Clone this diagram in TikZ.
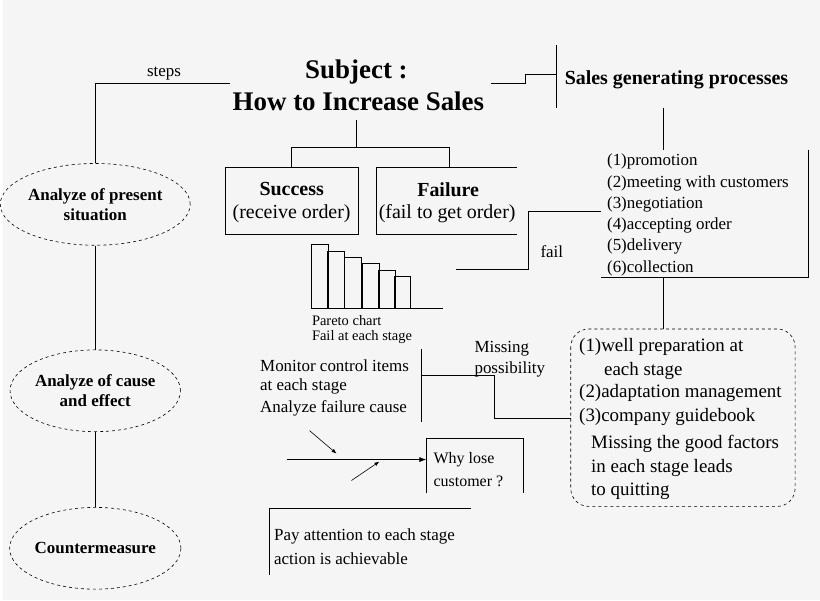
\documentclass[tikz,border=0pt]{standalone}
\usepackage{fontspec}
\setmainfont{Liberation Serif}
\usetikzlibrary{arrows.meta,shapes.geometric}

\begin{document}
\begin{tikzpicture}[x=1pt,y=-1pt,
 line width=0.9pt,
    T/.style = {font=\fontsize{27}{29}\selectfont\bfseries},% title text
    L/.style = {anchor=west, inner sep=0pt, font=\fontsize{17}{19}\selectfont},
    G/.style = {L, font=\fontsize{19}{21}\selectfont},
    B/.style = {font=\fontsize{20}{22}\selectfont\bfseries},
    E/.style = {ellipse, draw, dashed, line width=0.6pt, minimum width=150, minimum height=82,
                align=center, inner sep=0pt, font=\fontsize{17}{20}\selectfont\bfseries},
    thin/.style = {line width=0.6pt},
                        ]
\fill[white!96!black] (0,0) rectangle (820,602);
% title and steps
\node[T] (subj) at (355,72) {Subject :};
\node[T] (how) at (357,102) {How to Increase Sales};
\node[font=\fontsize{17}{19}\selectfont] (steps) at (162,74) {steps};
\node[E] (e1) at (93,205) {Analyze of present\\situation};
\node[E] (e2) at (93,392) {Analyze of cause\\and effect};
\node[E] (e3) at (93,550) {Countermeasure};
\draw (228,84) -- (93,84) -- (e1.north);
\draw[thin] (e1.south) -- (e2.north);
\draw[thin] (e2.south) -- (e3.north);
% sales processes
\node[B] (sales) at (676,80) {Sales generating processes};
\draw (490,84) -- (525,84) -- (525,75) -- (555,75);
\draw[thin] (555,45) -- (555,108);
\draw[thin] (663,108) -- (663,150);
\foreach \t [count=\i] in {(1)promotion,(2)meeting with customers,(3)negotiation,%
    (4)accepting order,(5)delivery,(6)collection}
    \node[L] (p\i) at (606,141+21.3*\i) {\t};
\draw[thin] (808,150) -- (808,278) -- (600,278);
\draw[thin] (663,278) -- (663,330);
% success / failure
\draw (355,120) -- (355,148);
\draw (290,168) -- (290,148) -- (448,148) -- (448,168);
\draw[thin] (223,168) rectangle (357,235);
\draw[thin] (516,168) -- (375,168) -- (375,235) -- (516,235);
\node[B] (succ) at (290,190) {Success};
\node[font=\fontsize{20}{22}\selectfont] (succb) at (290,214) {(receive order)};
\node[B] (fail) at (447,190) {Failure};
\node[font=\fontsize{20}{22}\selectfont] (failb) at (446,214) {(fail to get order)};
\draw (600,212) -- (528,212) -- (528,270) -- (455,270);
\node[font=\fontsize{17}{19}\selectfont] (failt) at (551,252) {fail};
% pareto chart
\foreach \x/\h in {310/245,326/252,343/258,361/264,377/271,393/277}
    \draw[thin] (\x,309) rectangle ++(16.5,\h-309);
\draw[thin] (310,309) -- (442,309);
\node[L, font=\fontsize{14.5}{16}\selectfont] (par1) at (310,322) {Pareto chart};
\node[L, font=\fontsize{14.5}{16}\selectfont] (par2) at (310,338) {Fail at each stage};
% monitor
\node[L] (m1) at (258,367) {Monitor control items};
\node[L] (m2) at (258,388) {at each stage};
\node[L] (m3) at (258,410) {Analyze failure cause};
\draw[thin] (420,350) -- (420,423);
\draw (420,377) -- (493,377) -- (493,420) -- (570,420);
\node[L] (mp1) at (473,350) {Missing};
\node[L] (mp2) at (473,371) {possibility};
% good factors
\draw[thin, dashed, rounded corners=18] (570,330) rectangle (795,508);
\node[G] (g1) at (578,348) {(1)well preparation at};
\node[G] (g2) at (603,372) {each stage};
\node[G] (g3) at (578,394) {(2)adaptation management};
\node[G] (g4) at (578,418) {(3)company guidebook};
\node[G] (g5) at (590,445) {Missing the good factors};
\node[G] (g6) at (590,469) {in each stage leads};
\node[G] (g7) at (590,493) {to quitting};
% fishbone
\coordinate (why) at (425,461);
\draw[-{Latex[length=7pt]}] (285,461) -- (why);
\draw[thin, -{Latex[length=5pt]}] (308,432) -- (335,455);
\draw[thin, -{Latex[length=5pt]}] (350,482) -- (378,463);
\draw[thin] (425,495) -- (425,440) -- (522,440) -- (522,495);
\node[L, font=\fontsize{16}{18}\selectfont] (w1) at (432,461) {Why lose};
\node[L, font=\fontsize{16}{18}\selectfont] (w2) at (432,483) {customer ?};
% countermeasure
\draw[thin] (470,510) -- (268,510) -- (268,577);
\node[L] (c1) at (272,538) {Pay attention to each stage};
\node[L] (c2) at (272,560) {action is achievable};
\end{tikzpicture}
\end{document}
